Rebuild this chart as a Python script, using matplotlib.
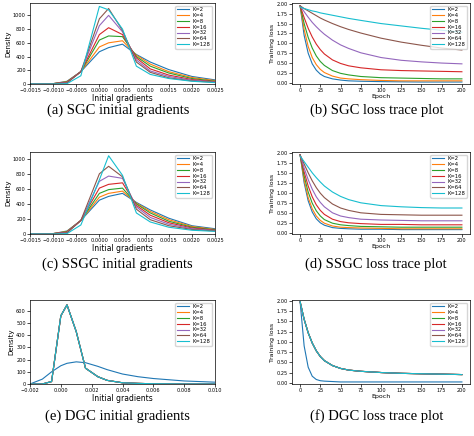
import matplotlib
matplotlib.use("Agg")
import matplotlib.pyplot as plt
import numpy as np

labels = ["K=2", "K=4", "K=8", "K=16", "K=32", "K=64", "K=128"]
colors = ["tab:blue", "tab:orange", "tab:green", "tab:red", "tab:purple", "tab:brown", "tab:cyan"]

# (a) SGC initial gradients
xa = [-0.0015, -0.0010, -0.0007, -0.0004, 0.0000, 0.0002, 0.0005, 0.0008, 0.0011, 0.0015, 0.0020, 0.0025]
da = [
    [0, 5, 40, 180, 470, 530, 580, 430, 320, 210, 110, 60],
    [0, 5, 35, 180, 540, 600, 630, 420, 290, 180, 95, 50],
    [0, 5, 30, 180, 640, 700, 690, 400, 260, 160, 80, 40],
    [0, 5, 25, 180, 720, 820, 720, 380, 220, 130, 65, 35],
    [0, 5, 20, 180, 850, 1000, 760, 350, 190, 110, 55, 30],
    [0, 5, 15, 180, 950, 1100, 780, 320, 170, 90, 45, 25],
    [0, 0, 5, 120, 1130, 1080, 800, 260, 140, 80, 40, 20],
]
# (c) SSGC initial gradients
dc = [
    [0, 5, 40, 180, 450, 500, 540, 420, 320, 210, 110, 70],
    [0, 5, 35, 180, 490, 540, 570, 410, 300, 190, 100, 60],
    [0, 5, 30, 180, 540, 590, 610, 400, 280, 170, 90, 55],
    [0, 5, 25, 180, 610, 660, 680, 380, 250, 150, 80, 50],
    [0, 5, 20, 180, 700, 770, 740, 360, 220, 130, 70, 45],
    [0, 5, 15, 180, 800, 900, 760, 330, 190, 110, 60, 40],
    [0, 0, 5, 120, 720, 1040, 780, 280, 160, 90, 50, 35],
]
# (e) DGC initial gradients
xe = [-0.002, -0.0012, -0.0006, 0.0, 0.0004, 0.001, 0.0016, 0.0024, 0.003, 0.004, 0.005, 0.006, 0.008, 0.010]
de_k2 = [0, 40, 100, 150, 170, 182, 175, 145, 118, 82, 60, 45, 25, 15]
de_rest = [0, 0, 20, 560, 650, 430, 130, 60, 30, 10, 5, 2, 0, 0]

# loss traces
epochs = [0, 5, 10, 15, 20, 25, 30, 40, 50, 60, 75, 100, 125, 150, 175, 200]
lb = [
    [1.95, 1.2, 0.75, 0.48, 0.32, 0.22, 0.16, 0.1, 0.07, 0.05, 0.04, 0.03, 0.025, 0.02, 0.02, 0.02],
    [1.95, 1.35, 0.92, 0.64, 0.46, 0.34, 0.26, 0.17, 0.12, 0.1, 0.08, 0.06, 0.05, 0.05, 0.05, 0.05],
    [1.95, 1.5, 1.15, 0.88, 0.68, 0.54, 0.44, 0.31, 0.24, 0.2, 0.16, 0.13, 0.12, 0.11, 0.1, 0.1],
    [1.95, 1.65, 1.38, 1.16, 0.98, 0.84, 0.73, 0.58, 0.49, 0.43, 0.38, 0.33, 0.31, 0.3, 0.29, 0.28],
    [1.95, 1.8, 1.66, 1.53, 1.42, 1.32, 1.23, 1.08, 0.96, 0.87, 0.76, 0.64, 0.57, 0.53, 0.5, 0.48],
    [1.95, 1.88, 1.82, 1.76, 1.7, 1.64, 1.59, 1.5, 1.42, 1.35, 1.26, 1.13, 1.03, 0.95, 0.88, 0.83],
    [1.92, 1.88, 1.85, 1.82, 1.8, 1.77, 1.75, 1.71, 1.67, 1.63, 1.58, 1.5, 1.44, 1.38, 1.33, 1.28],
]
ld = [
    [1.95, 1.25, 0.8, 0.52, 0.35, 0.25, 0.19, 0.13, 0.11, 0.1, 0.09, 0.09, 0.08, 0.08, 0.08, 0.08],
    [1.95, 1.32, 0.88, 0.6, 0.42, 0.31, 0.24, 0.17, 0.14, 0.13, 0.12, 0.11, 0.1, 0.1, 0.1, 0.1],
    [1.95, 1.42, 1.02, 0.74, 0.55, 0.42, 0.33, 0.24, 0.2, 0.18, 0.16, 0.15, 0.14, 0.14, 0.14, 0.14],
    [1.95, 1.52, 1.17, 0.9, 0.7, 0.56, 0.46, 0.34, 0.28, 0.25, 0.23, 0.21, 0.21, 0.2, 0.2, 0.2],
    [1.95, 1.62, 1.33, 1.09, 0.9, 0.76, 0.65, 0.5, 0.42, 0.38, 0.34, 0.32, 0.31, 0.3, 0.3, 0.3],
    [1.95, 1.72, 1.5, 1.3, 1.13, 0.99, 0.88, 0.72, 0.62, 0.56, 0.5, 0.46, 0.45, 0.44, 0.44, 0.44],
    [1.92, 1.78, 1.64, 1.5, 1.38, 1.27, 1.17, 1.02, 0.91, 0.83, 0.75, 0.68, 0.65, 0.63, 0.62, 0.62],
]
lf_k2 = [1.98, 0.9, 0.38, 0.16, 0.08, 0.05, 0.04, 0.03, 0.02, 0.02, 0.02, 0.02, 0.02, 0.02, 0.02, 0.02]
lf_rest = [1.98, 1.55, 1.22, 0.97, 0.78, 0.64, 0.54, 0.42, 0.35, 0.31, 0.28, 0.25, 0.23, 0.22, 0.21, 0.2]

captions = ["(a) SGC initial gradients", "(b) SGC loss trace plot",
            "(c) SSGC initial gradients", "(d) SSGC loss trace plot",
            "(e) DGC initial gradients", "(f) DGC loss trace plot"]

W, H = 474, 436
fig = plt.figure(figsize=(W / 100, H / 100), dpi=100)
rows_y = [(3, 84), (152, 234), (300, 384)]
cols_x = [(30, 215), (292, 470)]
cap_y = [110, 264, 416]


def mk(r, c):
    x0, x1 = cols_x[c]
    y0, y1 = rows_y[r]
    ax = fig.add_axes([x0 / W, 1 - y1 / H, (x1 - x0) / W, (y1 - y0) / H])
    ax.tick_params(labelsize=3.6, length=2, width=0.5, pad=1)
    for s in ax.spines.values():
        s.set_linewidth(0.5)
    fig.text((x0 + x1) / 2 / W - 0.01, 1 - cap_y[r] / H, captions[2 * r + c], ha="center", va="center",
             family="Liberation Serif", fontsize=10.5)
    return ax


def leg(ax):
    ax.legend(fontsize=3.8, loc="upper right", handlelength=2.2, labelspacing=0.15,
              borderpad=0.3, frameon=True, fancybox=True)


def grad_panel(ax, ylim, yticks):
    ax.set_xlabel("Initial gradients", fontsize=5.5, labelpad=0.5)
    ax.set_ylabel("Density", fontsize=5, labelpad=1)
    ax.set_ylim(0, ylim)
    ax.set_yticks(yticks)


def loss_panel(ax):
    ax.set_xlim(-10, 210)
    ax.set_ylim(-0.03, 2.02)
    ax.set_xticks(range(0, 201, 25))
    ax.set_yticks(np.arange(0, 2.01, 0.25))
    ax.set_xlabel("Epoch", fontsize=4.5, labelpad=0.5)
    ax.set_ylabel("Training loss", fontsize=4.5, labelpad=1)


# (a)
ax = mk(0, 0)
for d, l, c in zip(da, labels, colors):
    ax.plot(xa, d, color=c, lw=0.8, label=l)
ax.set_xlim(-0.0015, 0.0025)
ax.set_xticks(np.arange(-0.0015, 0.00251, 0.0005))
grad_panel(ax, 1180, range(0, 1001, 200))
leg(ax)

# (b)
ax = mk(0, 1)
for d, l, c in zip(lb, labels, colors):
    ax.plot(epochs, d, color=c, lw=0.8, label=l)
loss_panel(ax)
leg(ax)

# (c)
ax = mk(1, 0)
for d, l, c in zip(dc, labels, colors):
    ax.plot(xa, d, color=c, lw=0.8, label=l)
ax.set_xlim(-0.0015, 0.0025)
ax.set_xticks(np.arange(-0.0015, 0.00251, 0.0005))
grad_panel(ax, 1090, range(0, 1001, 200))
leg(ax)

# (d)
ax = mk(1, 1)
for d, l, c in zip(ld, labels, colors):
    ax.plot(epochs, d, color=c, lw=0.8, label=l)
loss_panel(ax)
leg(ax)

# (e)
ax = mk(2, 0)
ax.plot(xe, de_k2, color=colors[0], lw=0.8, label=labels[0])
for l, c in zip(labels[1:], colors[1:]):
    ax.plot(xe, de_rest, color=c, lw=0.8, label=l)
ax.set_xlim(-0.002, 0.010)
ax.set_xticks(np.arange(-0.002, 0.0101, 0.002))
grad_panel(ax, 690, range(0, 601, 100))
leg(ax)

# (f)
ax = mk(2, 1)
ax.plot(epochs, lf_k2, color=colors[0], lw=0.8, label=labels[0])
for l, c in zip(labels[1:], colors[1:]):
    ax.plot(epochs, lf_rest, color=c, lw=0.8, label=l)
loss_panel(ax)
leg(ax)

fig.savefig("out.png", dpi=100)
